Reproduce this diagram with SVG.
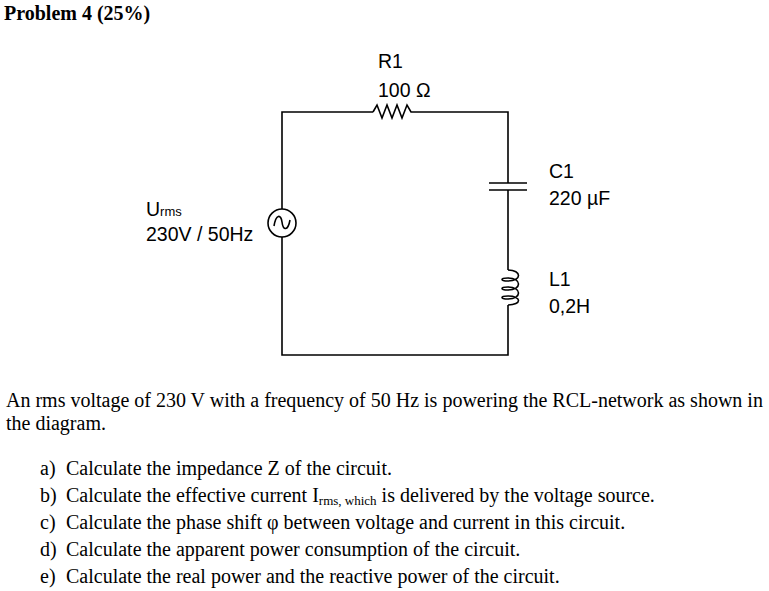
<svg xmlns="http://www.w3.org/2000/svg" width="769" height="591" viewBox="0 0 769 591">
<style>
.w{fill:none;stroke:#000;stroke-width:1.6}
.a{font-family:"Liberation Sans",Arial,sans-serif;font-size:19.5px}
.t{font-family:"Liberation Serif","Times New Roman",serif;font-size:20px}
</style>
<rect width="769" height="591" fill="#fff"/>
<text class="t" x="4" y="20" font-weight="bold">Problem 4 (25%)</text>
<g id="wires" class="w">
<path d="M373 112H282V209M282 237V355H508V305M508 270V190M508 183V112H415"/>
</g>
<g id="R1"><path class="w" d="M373 112L377 105L382 118L387 105L392 118L397 105L402 118L407 105L411 112H415"/>
<text class="a" x="378" y="68">R1</text><text class="a" x="378" y="97">100 Ω</text></g>
<g id="C1"><path class="w" d="M489 183H527M489 190H527"/>
<text class="a" x="549" y="178">C1</text><text class="a" x="549" y="205">220 µF</text></g>
<g id="L1"><path class="w" d="M508 270C522 270 522 281 508 281C500 281 500 278 508 278C522 278 522 290 508 290C500 290 500 287 508 287C522 287 522 299 508 299C500 299 500 296 508 296C522 296 522 305 508 305"/>
<text class="a" x="549" y="286">L1</text><text class="a" x="549" y="313">0,2H</text></g>
<g id="source"><circle class="w" cx="282" cy="223" r="14"/>
<path class="w" d="M274 226C276 214 281 214 282 222C283 231 288 231 290 220"/>
<text class="a" x="146" y="216">U<tspan font-size="13">rms</tspan></text>
<text class="a" x="146" y="241">230V / 50Hz</text></g>
<g class="t">
<text x="6" y="407">An rms voltage of 230 V with a frequency of 50 Hz is powering the RCL-network as shown in</text>
<text x="6" y="430">the diagram.</text>
<text x="40" y="475">a)</text><text x="66" y="475">Calculate the impedance Z of the circuit.</text>
<text x="40" y="502">b)</text><text x="66" y="502">Calculate the effective current I<tspan font-size="13" dy="3">rms, which</tspan><tspan dy="-3"> is delivered by the voltage source.</tspan></text>
<text x="40" y="529">c)</text><text x="66" y="529">Calculate the phase shift φ between voltage and current in this circuit.</text>
<text x="40" y="556">d)</text><text x="66" y="556">Calculate the apparent power consumption of the circuit.</text>
<text x="40" y="583">e)</text><text x="66" y="583">Calculate the real power and the reactive power of the circuit.</text>
</g>
</svg>
